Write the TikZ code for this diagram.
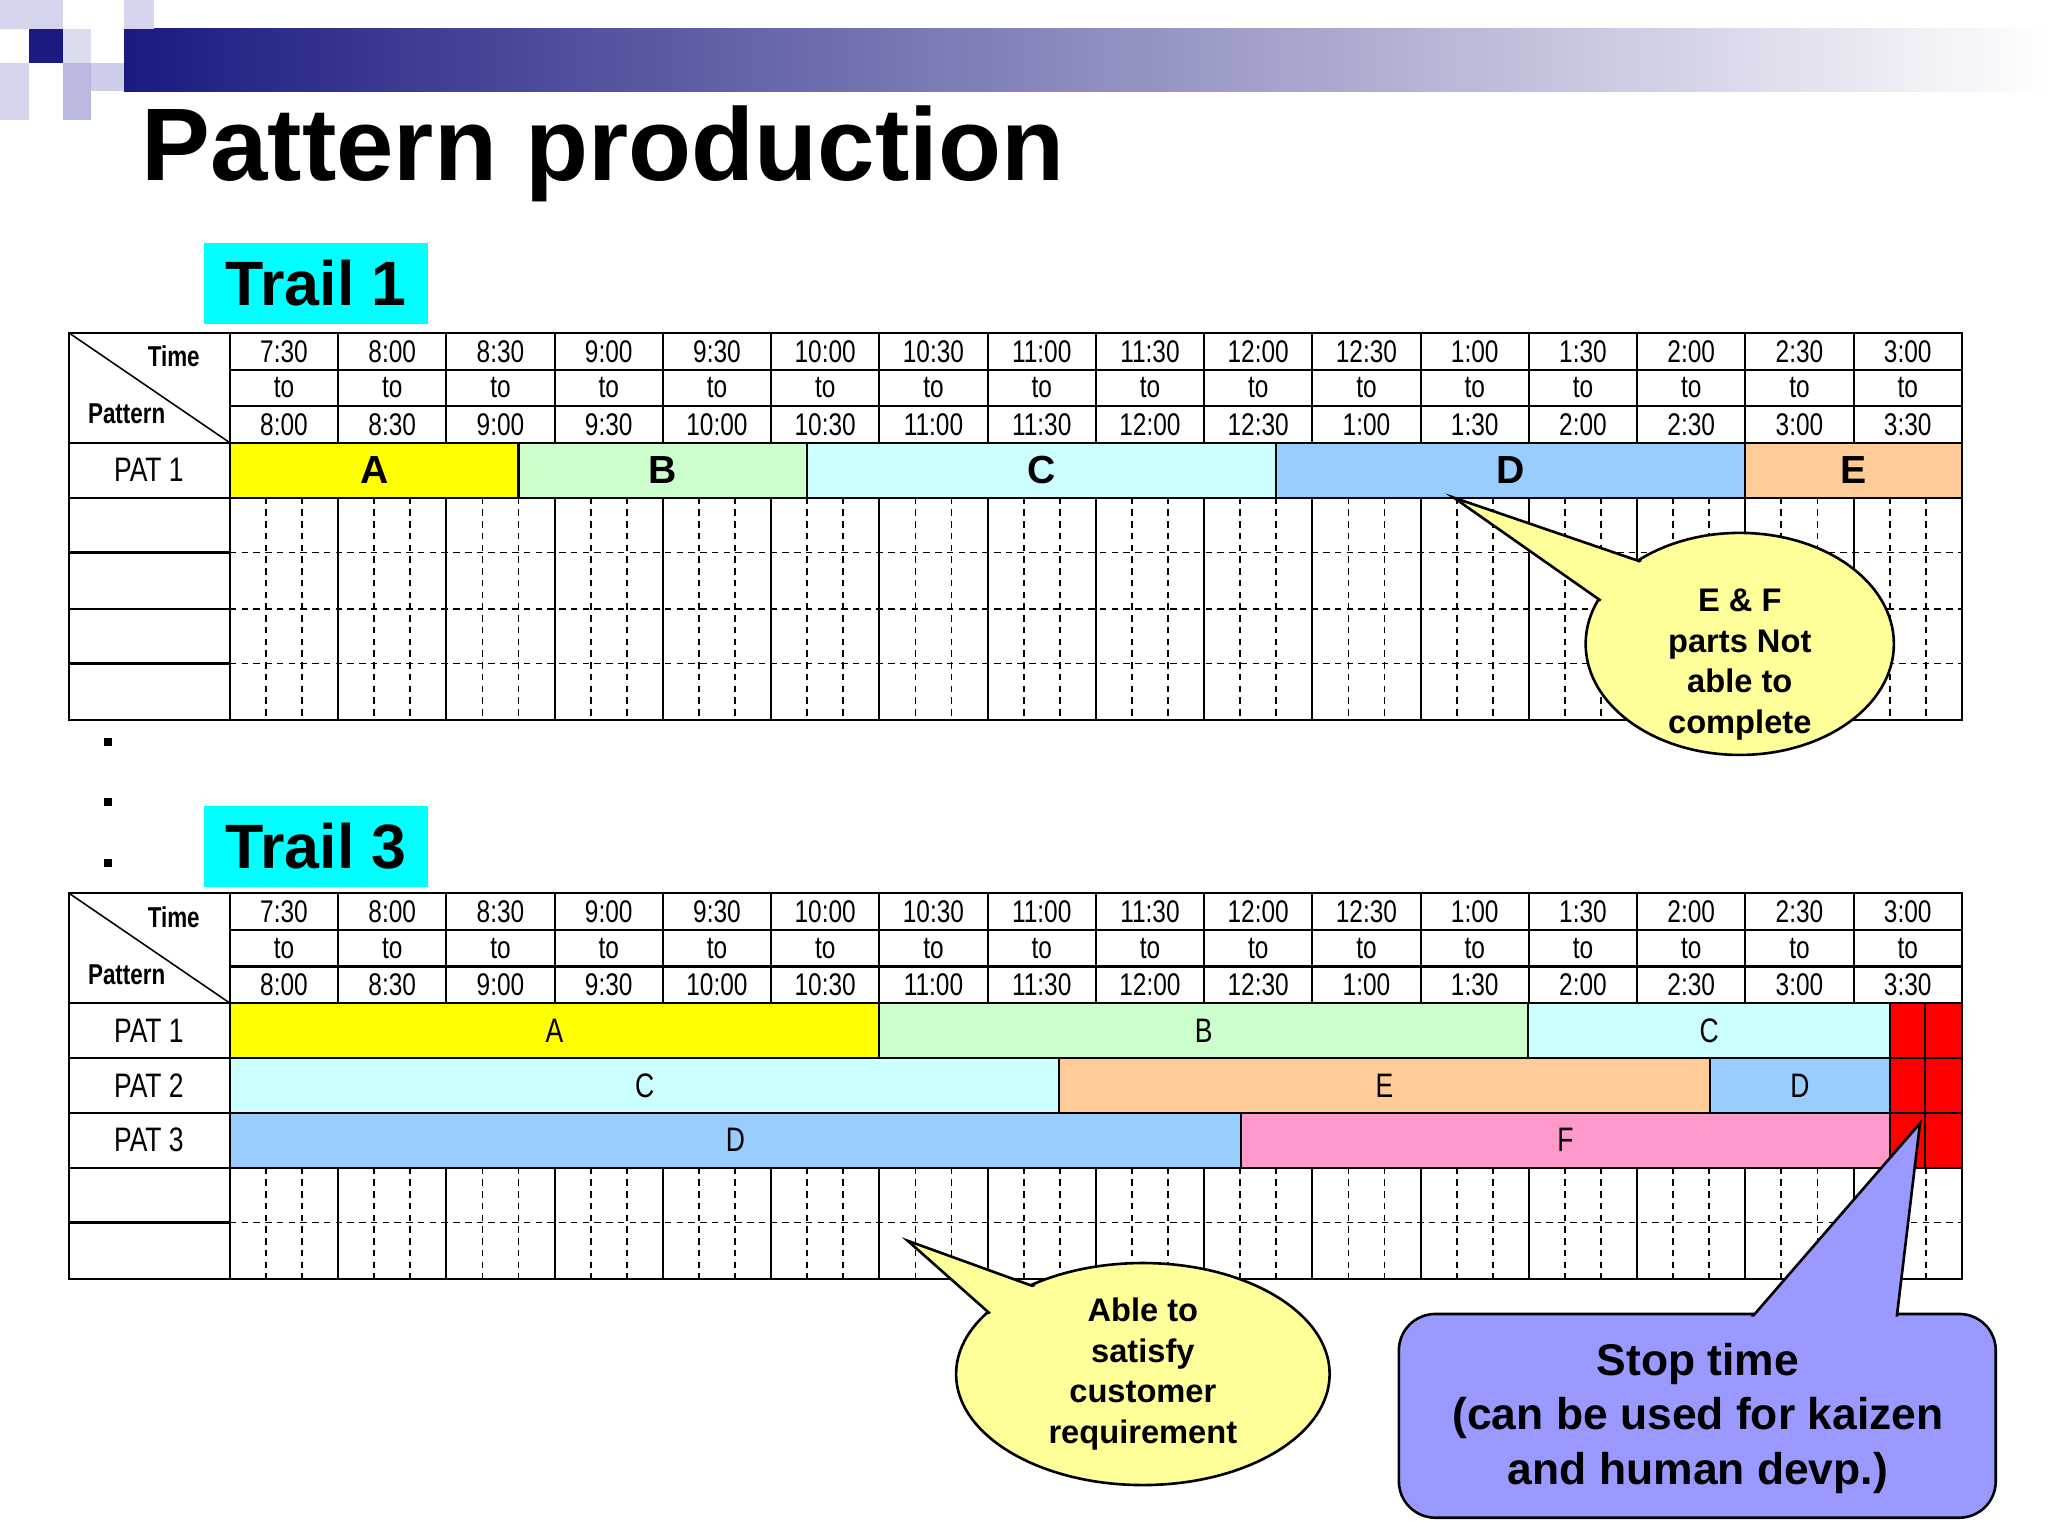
\documentclass[tikz,border=0pt]{standalone}
\usepackage{fontspec}
\setmainfont{Liberation Sans}
\newcommand\nar[1]{\scalebox{0.78}[1]{#1}}
\definecolor{navy}{HTML}{1A1A80}
\definecolor{lav}{HTML}{B8B8E0}
\definecolor{cyanbox}{HTML}{00FFFF}
\definecolor{ylw}{HTML}{FFFF00}
\definecolor{grn}{HTML}{CCFFCC}
\definecolor{lcy}{HTML}{CCFFFF}
\definecolor{blu}{HTML}{99CCFF}
\definecolor{org}{HTML}{FFCC99}
\definecolor{pnk}{HTML}{FF99CC}
\definecolor{callY}{HTML}{FFFF99}
\definecolor{callB}{HTML}{9999FF}
\tikzset{
 tbl/.style={font=\fontsize{12}{12}\selectfont, inner sep=0pt},
 blk/.style={draw=black, line width=0.8pt},
 grid/.style={line width=0.8pt},
 dgrid/.style={line width=0.7pt, dash pattern=on 2.5pt off 2pt},
 trail/.style={fill=cyanbox, font=\bfseries\fontsize{24}{24}\selectfont, inner sep=0pt, minimum width=86pt, minimum height=31pt},
 calltxt/.style={font=\bfseries\fontsize{12.5}{15.5}\selectfont, align=center},
 bl1/.style={font=\bfseries\fontsize{15}{15}\selectfont},
 bl3/.style={font=\fontsize{13}{13}\selectfont},
}
\begin{document}
\begin{tikzpicture}[x=0.5pt,y=-0.5pt]
\useasboundingbox (0,0) rectangle (1568,1176);
\fill[white] (0,0) rectangle (1568,1176);
% header decoration
\shade[left color=navy, right color=white] (95,22) rectangle (1568,70);
\fill[lav!60] (0,0) rectangle (48,22);
\fill[lav!60] (95,0) rectangle (118,22);
\fill[lav!60] (0,48) rectangle (22,92);
\fill[lav] (48,48) rectangle (70,92);
\fill[lav!70] (70,48) rectangle (95,70);
\fill[navy] (22,22) rectangle (48,48);
\fill[lav!50] (48,22) rectangle (70,48);
\node[anchor=base west, font=\bfseries\fontsize{39.5}{39.5}\selectfont, inner sep=0pt] (title) at (108,138) {Pattern production};
% dots
\foreach \y in {568,614,661} \fill (80,\y-3) rectangle (86,\y+3);

\def\cw{82.875}
\def\times{{"7:30","8:00","8:30","9:00","9:30","10:00","10:30","11:00","11:30","12:00","12:30","1:00","1:30","2:00","2:30","3:00","3:30"}}

\newcommand\drawtable[4]{%
 \foreach \i in {0,...,15}{
  \pgfmathsetmacro\xa{176+\i*\cw}
  \pgfmathsetmacro\xm{\xa+\cw/2}
  \pgfmathsetmacro\ii{int(\i+1)}
  \pgfmathsetmacro\ta{\times[\i]}
  \pgfmathsetmacro\tb{\times[\ii]}
  \node[tbl] (h#1a\i) at (\xm,#1+14) {\nar{\ta}};
  \node[tbl] (h#1b\i) at (\xm,#1+42) {\nar{to}};
  \node[tbl] (h#1c\i) at (\xm,#1+70) {\nar{\tb}};
  \draw[grid] (\xa,#1) -- (\xa,#2);
  \draw[grid] (\xa,#3) -- (\xa,#4);
  \pgfmathsetmacro\da{\xa+\cw/3}
  \pgfmathsetmacro\db{\xa+2*\cw/3}
  \draw[dgrid] (\da,#3) -- (\da,#4);
  \draw[dgrid] (\db,#3) -- (\db,#4);
 }
 \draw[grid] (176,#1+28) -- (1502,#1+28);
 \draw[grid] (176,#1+56) -- (1502,#1+56);
 \draw[grid] (53,#1) rectangle (1502,#4);
 \draw[grid] (53,#2) -- (1502,#2);
 \draw[grid] (53,#3) -- (1502,#3);
 \draw[grid] (176,#1) -- (176,#4);
 \draw[line width=0.6pt] (53,#1) -- (176,#2);
 \node[tbl, font=\bfseries\fontsize{11}{11}\selectfont] (tm#1) at (133,#1+18) {\nar{Time}};
 \node[tbl, font=\bfseries\fontsize{11}{11}\selectfont] (pt#1) at (97,#1+62) {\nar{Pattern}};
}

% ===== Trail 1 =====
\node[trail] (t1) at (242,217) {Trail 1};
\drawtable{255}{339}{381}{551}
\foreach \y in {423,466,508}{
 \draw[grid] (53,\y) -- (176,\y);
 \draw[dgrid] (176,\y) -- (1502,\y);
}
\node[tbl, font=\fontsize{13}{13}\selectfont] (p11) at (114,360) {\nar{PAT 1}};
\draw[blk, fill=ylw] (176,339) rectangle (397,381);
\draw[blk, fill=grn] (397,339) rectangle (618,381);
\draw[blk, fill=lcy] (618,339) rectangle (977,381);
\draw[blk, fill=blu] (977,339) rectangle (1336,381);
\draw[blk, fill=org] (1336,339) rectangle (1502,381);
\node[bl1] (a1) at (286.5,360) {A};
\node[bl1] (b1) at (507.5,360) {B};
\node[bl1] (c1) at (797.5,360) {C};
\node[bl1] (d1) at (1156.5,360) {D};
\node[bl1] (e1) at (1419,360) {E};

% ===== Trail 3 =====
\node[trail] (t3) at (242,648) {Trail 3};
\drawtable{684}{768}{894}{979}
\draw[grid] (53,810) -- (1502,810);
\draw[grid] (53,852) -- (1502,852);
\draw[grid] (53,936) -- (176,936);
\draw[dgrid] (176,936) -- (1502,936);
\node[tbl, font=\fontsize{13}{13}\selectfont] (p31) at (114,789) {\nar{PAT 1}};
\node[tbl, font=\fontsize{13}{13}\selectfont] (p32) at (114,831) {\nar{PAT 2}};
\node[tbl, font=\fontsize{13}{13}\selectfont] (p33) at (114,873) {\nar{PAT 3}};
\draw[blk, fill=ylw] (176,768) rectangle (673,810);
\draw[blk, fill=grn] (673,768) rectangle (1170,810);
\draw[blk, fill=lcy] (1170,768) rectangle (1447,810);
\draw[blk, fill=lcy] (176,810) rectangle (811,852);
\draw[blk, fill=org] (811,810) rectangle (1309,852);
\draw[blk, fill=blu] (1309,810) rectangle (1447,852);
\draw[blk, fill=blu] (176,852) rectangle (950,894);
\draw[blk, fill=pnk] (950,852) rectangle (1447,894);
\draw[blk, fill=red] (1447,768) rectangle (1502,894);
\draw[grid] (1474,768) -- (1474,894);
\draw[grid] (1447,810) -- (1502,810);
\draw[grid] (1447,852) -- (1502,852);
\node[bl3] (a3) at (424.5,789) {\nar{A}};
\node[bl3] (b3) at (921.5,789) {\nar{B}};
\node[bl3] (c3) at (1308.5,789) {\nar{C}};
\node[bl3] (c3b) at (493.5,831) {\nar{C}};
\node[bl3] (e3) at (1060,831) {\nar{E}};
\node[bl3] (d3b) at (1378,831) {\nar{D}};
\node[bl3] (d3) at (563,873) {\nar{D}};
\node[bl3] (f3) at (1198.5,873) {\nar{F}};

% ===== Callout 1 =====
\coordinate (tip1) at (1113,381);
\draw[line width=1pt, fill=callY] (1332,493) ellipse [x radius=118, y radius=85];
\draw[line width=1pt, fill=callY] (tip1) -- (1262,432) -- (1240,470) -- cycle;
\fill[callY] (1332,493) ellipse [x radius=116, y radius=83];
\node[calltxt] (co1) at (1332,509) {E \& F\\parts Not\\able to\\complete};

% ===== Callout 2 =====
\coordinate (tip2) at (695,950);
\draw[line width=1pt, fill=callY] (875,1052) ellipse [x radius=143, y radius=85];
\draw[line width=1pt, fill=callY] (tip2) -- (800,988) -- (765,1012) -- cycle;
\fill[callY] (875,1052) ellipse [x radius=141, y radius=83];
\node[calltxt] (co2) at (875,1052) {Able to\\satisfy\\customer\\requirement};

% ===== Callout 3 =====
\coordinate (tip3) at (1470,860);
\draw[line width=1pt, fill=callB, rounded corners=14pt] (1071,1006) rectangle (1528,1162);
\draw[line width=1pt, fill=callB] (1340,1010) -- (tip3) -- (1452,1010) -- cycle;
\fill[callB, rounded corners=12pt] (1073,1008) rectangle (1526,1160);
\node[font=\bfseries\fontsize{17}{21}\selectfont, align=center] (co3) at (1300,1086) {Stop time\\(can be used for kaizen\\and human devp.)};
\end{tikzpicture}
\end{document}
